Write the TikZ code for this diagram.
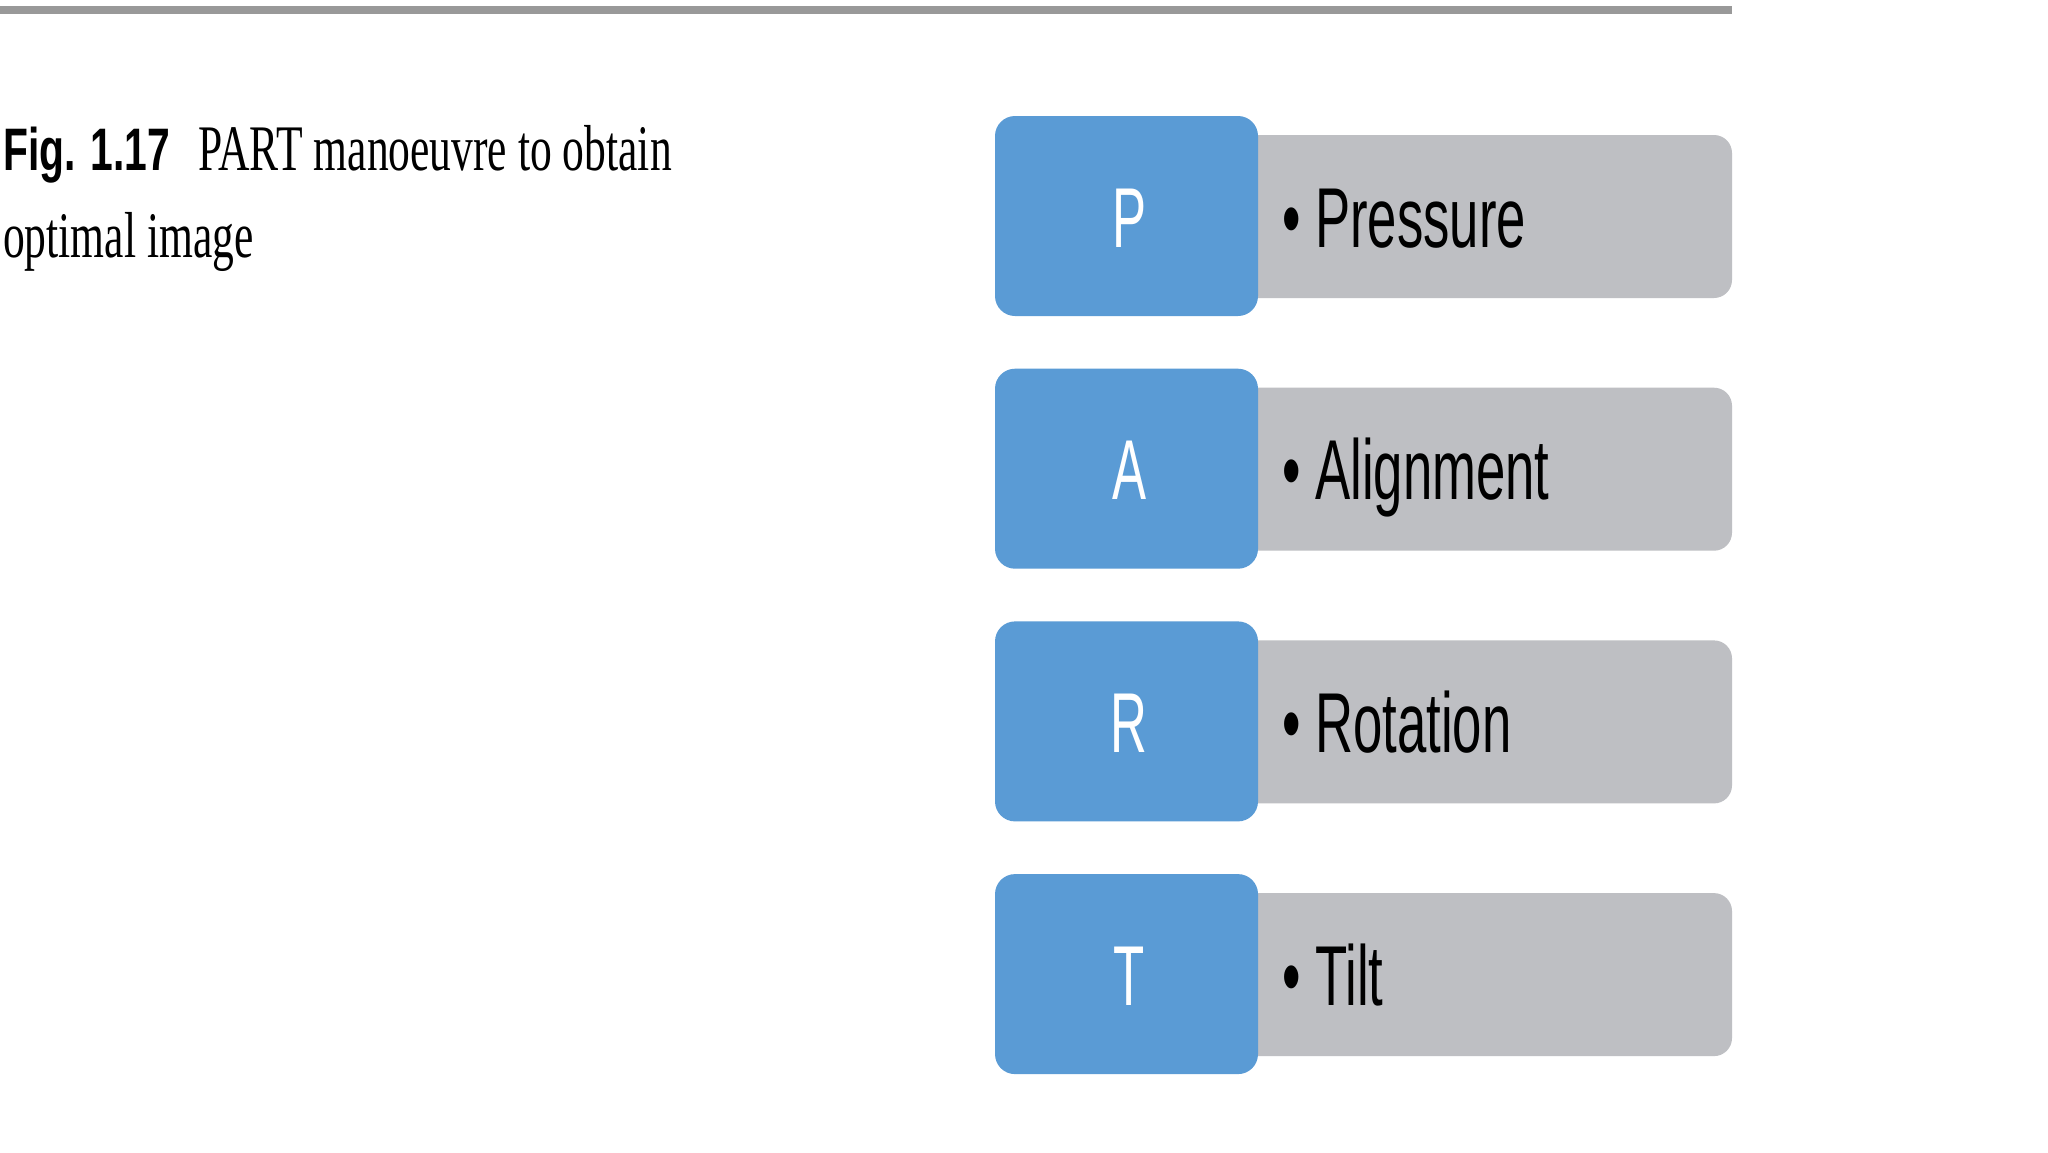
\documentclass[tikz,border=0pt]{standalone}
\usepackage{fontspec}
\setmainfont{Liberation Serif}
\setsansfont{Liberation Sans}
\definecolor{partblue}{HTML}{5A9BD5}
\definecolor{partgray}{HTML}{BEBFC3}
\definecolor{ruleline}{HTML}{999999}
\newcommand\sqz[2][0.63]{\scalebox{#1}[1]{#2}}
\begin{document}
\begin{tikzpicture}[x=1pt,y=-1pt,
  letterbox/.style={fill=partblue, rounded corners=20pt, minimum width=263pt, minimum height=200pt, inner sep=0pt},
  barbox/.style={fill=partgray, rounded corners=18pt, minimum width=502pt, minimum height=163pt, inner sep=0pt},
  lettertext/.style={text=white, inner sep=0pt, anchor=base, font=\sffamily\fontsize{85}{85}\selectfont},
  itemtext/.style={text=black, inner sep=0pt, anchor=base west, font=\sffamily\fontsize{85}{85}\selectfont},
  captext/.style={inner sep=0pt, anchor=base west}]
\useasboundingbox (0,0) rectangle (2048,1152);
\fill[white] (0,0) rectangle (2048,1152);
\coordinate (ruleL) at (0,9.5);
\coordinate (ruleR) at (1732,9.5);
\draw[ruleline, line width=8pt] (ruleL) -- (ruleR);
\node[captext, font=\sffamily\bfseries\fontsize{60}{60}\selectfont] (figno) at (3,170) {\sqz[0.68]{Fig. 1.17}};
\node[captext, font=\rmfamily\fontsize{65}{65}\selectfont] (cap1) at (198,170) {\sqz[0.67]{PART manoeuvre to obtain}};
\node[captext, font=\rmfamily\fontsize{65}{65}\selectfont] (cap2) at (3,257) {\sqz[0.67]{optimal image}};
\foreach \L/\W [count=\i from 0] in {P/Pressure, A/Alignment, R/Rotation, T/Tilt}{
  \node[barbox] (bar\L) at (1481, 216.5+252.7*\i) {};
  \node[letterbox] (box\L) at (1126.5, 216+252.7*\i) {};
  \node[lettertext] (lab\L) at (1129, 247+252.7*\i) {\sqz[0.6]{\L}};
  \node[itemtext] (word\L) at (1282, 247+252.7*\i) {\sqz[0.62]{• \W}};
}
\end{tikzpicture}
\end{document}
